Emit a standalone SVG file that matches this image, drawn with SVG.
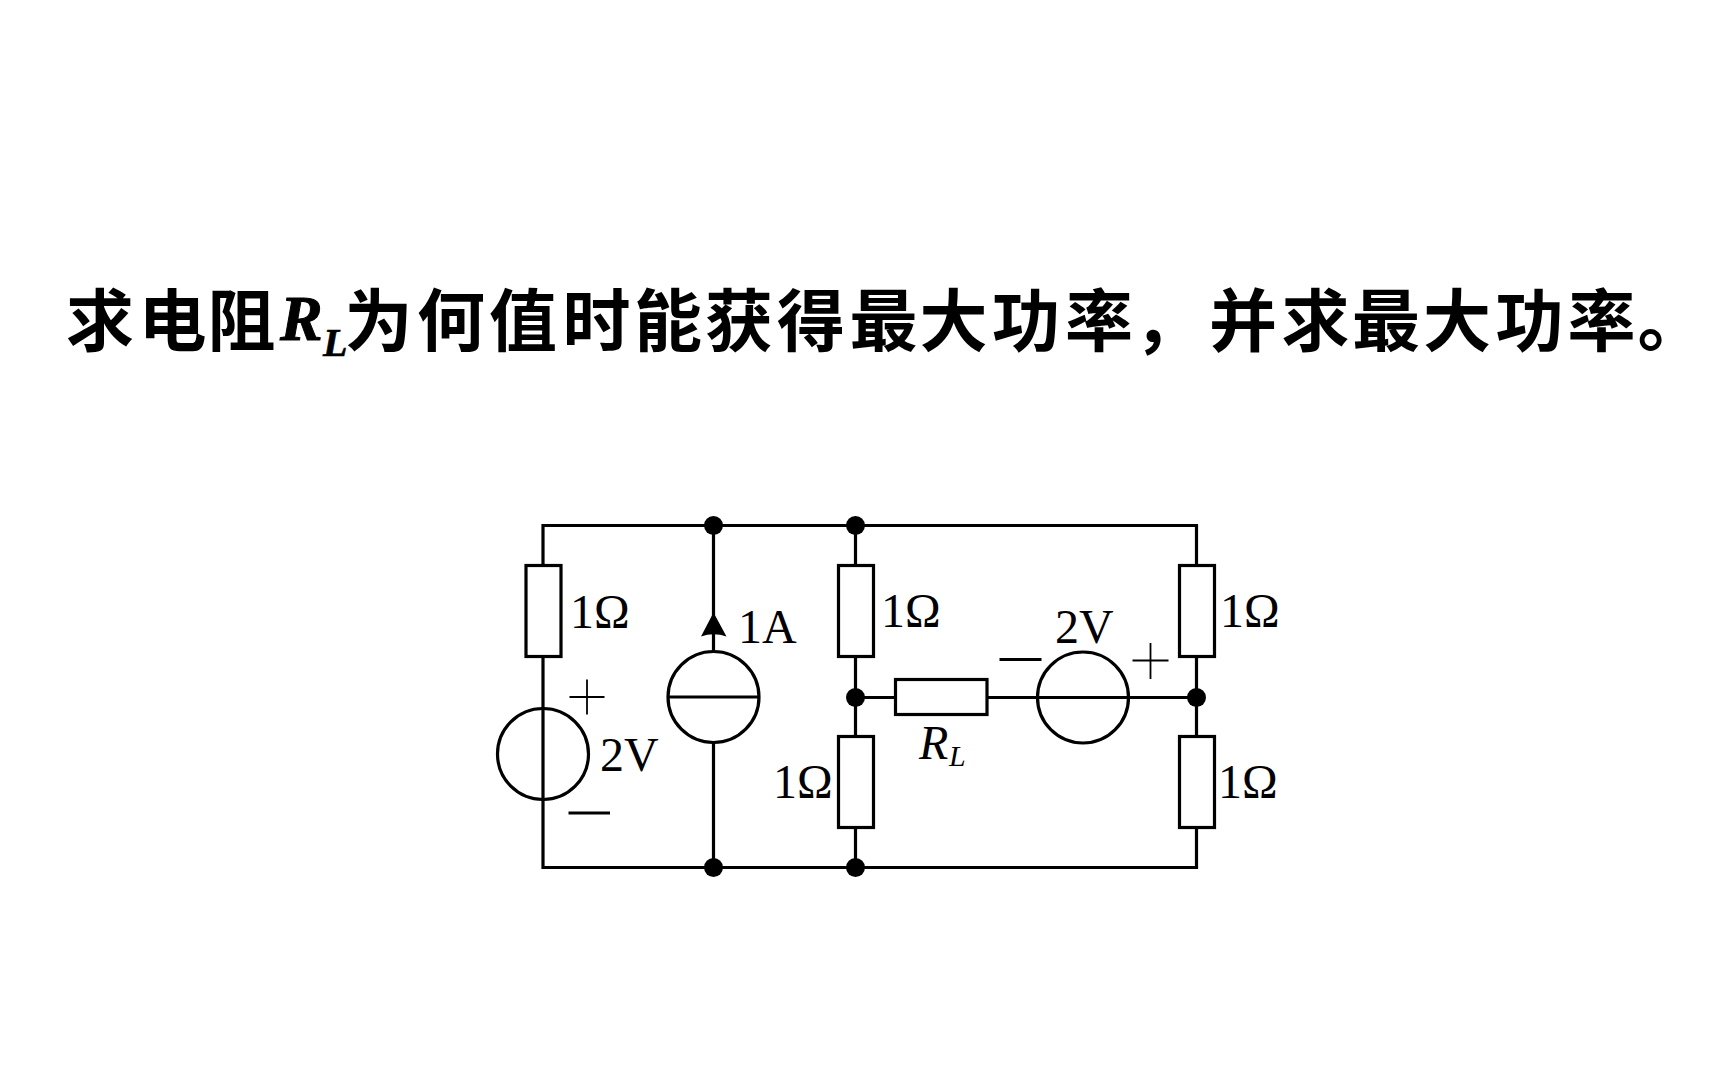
<svg xmlns="http://www.w3.org/2000/svg" width="1728" height="1080" viewBox="0 0 1728 1080">
<style>
.w{fill:none;stroke:#000;stroke-width:3.2}
.r{fill:#fff;stroke:#000;stroke-width:3.2}
.c{fill:none;stroke:#000;stroke-width:3.2}
.d{fill:#000}
.t{font-family:"Liberation Serif",serif;font-size:48px;fill:#000}
.p{fill:none;stroke:#000;stroke-width:1.8}
.m{fill:none;stroke:#000;stroke-width:3.2}
.h{font-family:"Noto Sans CJK SC",sans-serif;font-size:68px;font-weight:700;fill:#000}
.i{font-family:"Liberation Serif",serif;font-style:italic}
</style>
<g id="title">
<text class="h" y="345.5" x="66 138.5 207.5">求电阻</text>
<text class="i" font-weight="700" font-size="64" y="340" x="280" stroke="#000" stroke-width="1">R</text>
<text class="i" font-weight="700" font-size="40" y="356" x="323" stroke="#000" stroke-width="0.6">L</text>
<text class="h" y="345.5" x="344.5 417 489 562.5 634 705 777 849.5 919.5 992 1065 1134 1209 1281.5 1352 1423 1495.5 1567.5 1637.5">为何值时能获得最大功率，并求最大功率。</text>
</g>
<g id="connectors">
<path class="w" d="M543 525.5H1196.5V867.5H543Z"/>
<path class="w" d="M713.5 525.5V867.5"/>
<path class="w" d="M855.5 525.5V867.5"/>
<path class="w" d="M855.5 697.5H1196.5"/>
</g>
<g id="R1"><rect class="r" x="526" y="565.5" width="35" height="91"/><text class="t" x="570" y="628">1Ω</text></g>
<g id="R2"><rect class="r" x="838.5" y="565.5" width="35" height="91"/><text class="t" x="881" y="627">1Ω</text></g>
<g id="R3"><rect class="r" x="838.5" y="736.5" width="35" height="91"/><text class="t" x="773" y="798">1Ω</text></g>
<g id="R4"><rect class="r" x="1179.5" y="565.5" width="35" height="91"/><text class="t" x="1220" y="627">1Ω</text></g>
<g id="R5"><rect class="r" x="1179.5" y="736.5" width="35" height="91"/><text class="t" x="1218" y="798">1Ω</text></g>
<g id="RL"><rect class="r" x="895.5" y="679.5" width="91.5" height="35"/>
<text class="t i" x="919" y="759">R</text><text class="t i" style="font-size:30px" x="949" y="766">L</text></g>
<g id="V1"><circle class="c" cx="543" cy="754" r="45.5"/>
<path class="p" d="M569.5 697H604.5M587 679.5V714.5"/><path class="m" d="M568.5 813H610"/>
<text class="t" x="600" y="771">2V</text></g>
<g id="I1"><circle class="r" cx="713.5" cy="697" r="45.5"/><path class="w" d="M668 697H759"/>
<path class="d" d="M713.5 612.5L726.5 636.5Q713.5 632 701 636.5Z"/>
<text class="t" x="738" y="643">1A</text></g>
<g id="V2"><circle class="c" cx="1083" cy="697.5" r="45.5"/>
<path class="p" d="M1132.5 660.5H1168.5M1150.5 643V679"/><path class="m" d="M999.5 659.5H1041.5"/>
<text class="t" x="1055" y="643">2V</text></g>
<g id="n1"><circle class="d" cx="713.5" cy="525.5" r="9.5"/></g>
<g id="n2"><circle class="d" cx="855.5" cy="525.5" r="9.5"/></g>
<g id="n3"><circle class="d" cx="855.5" cy="697.5" r="9.5"/></g>
<g id="n4"><circle class="d" cx="1196.5" cy="697.5" r="9.5"/></g>
<g id="n5"><circle class="d" cx="713.5" cy="867.5" r="9.5"/></g>
<g id="n6"><circle class="d" cx="855.5" cy="867.5" r="9.5"/></g>
</svg>
